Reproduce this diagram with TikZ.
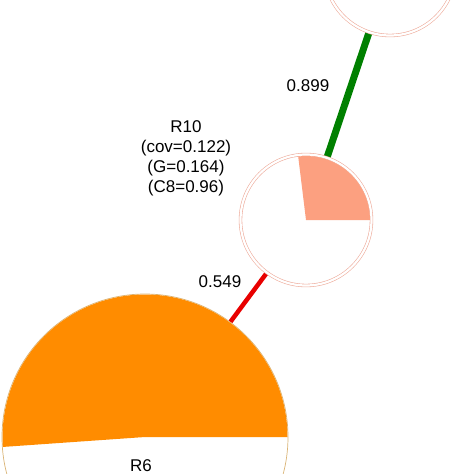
\documentclass[tikz,border=0pt]{standalone}
\usepackage{fontspec}
\setmainfont{Liberation Sans}
\usepackage{xcolor}
\usetikzlibrary{positioning, backgrounds}
\definecolor{ringsalmon}{RGB}{238,172,156}
\definecolor{wedgesalmon}{RGB}{252,160,128}
\definecolor{ringtan}{RGB}{218,180,118}
\definecolor{ruleorange}{RGB}{255,140,0}
\definecolor{linkgreen}{RGB}{0,128,0}
\definecolor{linkred}{RGB}{232,0,0}

\begin{document}
\begin{tikzpicture}[
  x=1pt, y=-1pt,
  rulenode/.style={circle, draw=ringsalmon, double, double distance=2.2pt, line width=0.6pt,
                   fill=white, minimum size=131pt, inner sep=0pt},
  bignode/.style={circle, draw=ringtan, line width=0.7pt, fill=white,
                  minimum size=286pt, inner sep=0pt},
  link/.style={line width=#1, line cap=butt},
  weight/.style={font=\fontsize{17}{20}\selectfont, inner sep=0pt},
  info/.style={font=\fontsize{17}{20}\selectfont, align=center, inner sep=0pt},
]
  \useasboundingbox (0,0) rectangle (474,474);
  \clip (0,0) rectangle (474,474);

  \node[rulenode] (rtop) at (390,-30) {};
  \node[rulenode] (r10)  at (306,220) {};
  \node[bignode]  (r6)   at (145,437) {};

  % pie wedges (y axis points down, so angles run negative)
  \fill[wedgesalmon] (r10.center) -- ++(0:64) arc[start angle=0, end angle=-97, radius=64] -- cycle;
  \fill[ruleorange] (r6.center) -- ++(0:142.5) arc[start angle=0, end angle=-184, radius=142.5] -- cycle;

  \begin{scope}[on background layer]
    \draw[link=7pt, linkgreen] (r10) -- (rtop);
    \draw[link=4.5pt, linkred] (r6) -- (r10);
  \end{scope}

  \node[weight] (w1) at (308,86) {0.899};
  \node[weight] (w2) at (220,282) {0.549};

  \node[info] (r10info) at (186,158) {R10\\(cov=0.122)\\(G=0.164)\\(C8=0.96)};
  \node[weight] (r6info) at (141,466) {R6};
\end{tikzpicture}
\end{document}
